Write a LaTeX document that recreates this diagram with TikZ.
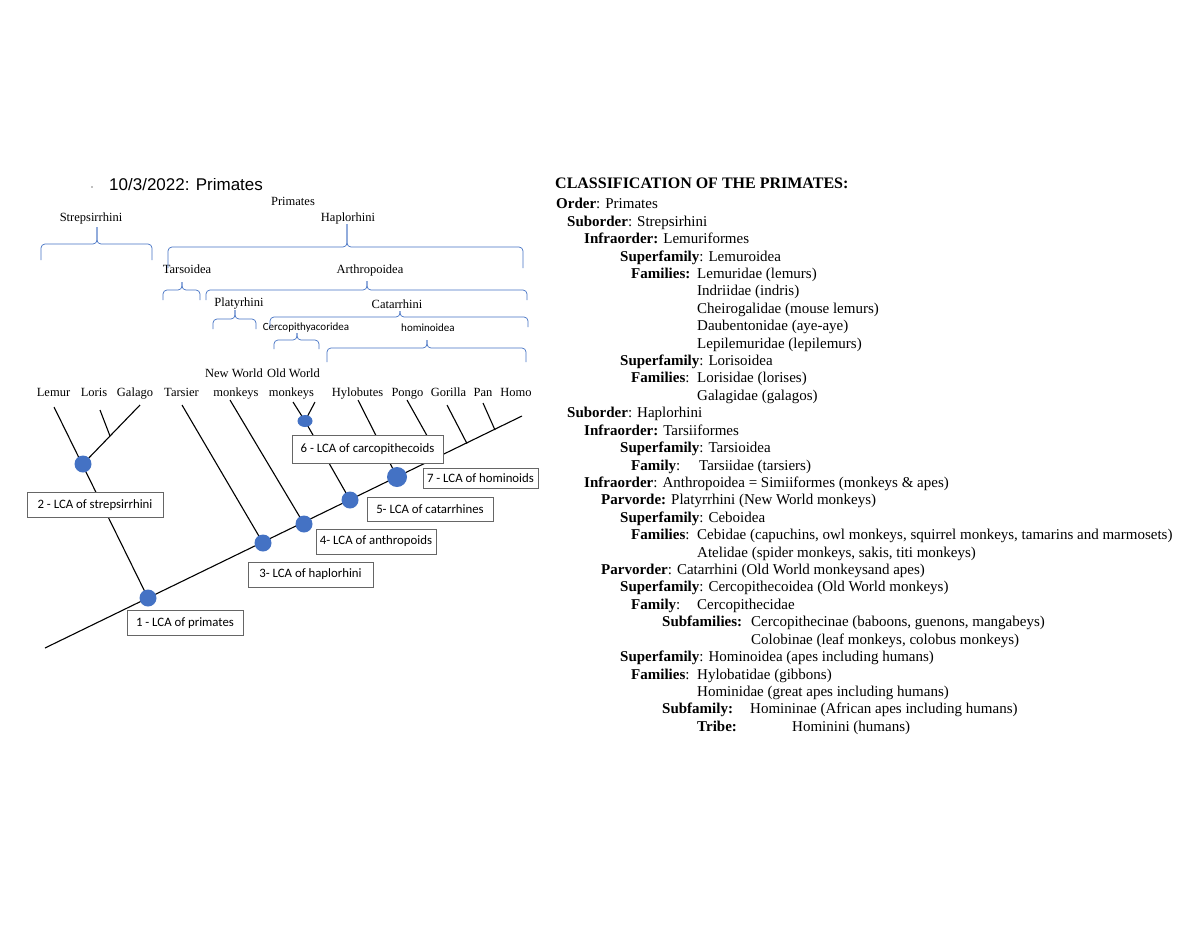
\documentclass[tikz,border=0pt]{standalone}
\usepackage{fontspec}
\setmainfont{Liberation Serif}
\newfontfamily\carlito{Carlito}
\newfontfamily\arialfont{Liberation Sans}
\usetikzlibrary{shapes.geometric}
\definecolor{lcablue}{RGB}{68,114,196}
\newcommand{\taxbrace}[6]{%
\draw[brace](#1,#5)--(#1,#4)--(#3,#4)--(#3,#6);
\draw[brace](#3,#6)--(#3,#4)--(#2,#4)--(#2,#5);}
\newcommand{\clsrow}[3]{\node[cls](r#1) at (#2,{191.4+17.414*#1}){#3};}
\newcommand{\clsitem}[3]{\node[cls](i#1) at (#2,{191.4+17.414*#1}){#3};}
\begin{document}
\begin{tikzpicture}[x=1pt,y=-1pt,
  brace/.style={draw=lcablue, line width=.7pt, rounded corners=4pt},
  taxon/.style={font=\fontsize{12.5}{13}\selectfont, inner sep=0pt, anchor=base},
  group/.style={font=\fontsize{12.5}{13}\selectfont, inner sep=0pt},
  smallgroup/.style={font=\carlito\fontsize{11}{12}\selectfont, inner sep=0pt},
  branch/.style={line width=1.1pt},
  lca/.style={circle, fill=lcablue, minimum size=17pt, inner sep=0pt},
  lcabox/.style={draw=black!60, fill=white, line width=.6pt, font=\carlito\fontsize{12.8}{14}\selectfont, minimum height=25pt, inner sep=0pt},
  cls/.style={font=\fontsize{15}{17}\selectfont, inner sep=0pt, anchor=base west}]
\fill[white](0,0) rectangle (1200,927);
\useasboundingbox (0,0) rectangle (1200,927);

\begin{scope}
\clip (100,178.5) rectangle (300,200);
\node[font=\arialfont\fontsize{17}{19}\selectfont, inner sep=0pt, anchor=base west](title) at (109,190.5){10/3/2022: Primates};
\end{scope}
\fill[black!50](92,187) circle (.8);

\node[group](primates) at (293,201){Primates};
\node[group](strep) at (91,218){Strepsirrhini};
\node[group](haplo) at (348,218){Haplorhini};
\node[group](tarso) at (187,269){Tarsoidea};
\node[group](arthro) at (370,270){Arthropoidea};
\node[group](platy) at (239,304){Platyrhini};
\node[group](catar) at (397,304){Catarrhini};
\node[smallgroup](cerco) at (306,328){Cercopithyacoridea};
\node[smallgroup](homino) at (428,328){hominoidea};

\taxbrace{41}{152}{97}{244}{260}{227}
\taxbrace{168}{523}{347}{247}{268}{224}
\taxbrace{163}{200}{182}{290}{300}{282}
\taxbrace{206}{527}{367}{290}{300}{281}
\taxbrace{213}{256}{235}{319}{329}{310}
\taxbrace{270}{528}{400}{317}{327}{311}
\taxbrace{274}{319}{297}{340}{349}{333}
\taxbrace{327}{526}{427}{348}{362}{340}

\node[taxon](lemur) at (53.5,396){Lemur};
\node[taxon](loris) at (94,396){Loris};
\node[taxon](galago) at (135,396){Galago};
\node[taxon](tarsier) at (181.5,396){Tarsier};
\node[taxon](nwm) at (236,396){monkeys};
\node[taxon](nw) at (234,377){New World};
\node[taxon](owm) at (291.5,396){monkeys};
\node[taxon](ow) at (293.5,377){Old World};
\node[taxon](hylo) at (357.5,396){Hylobutes};
\node[taxon](pongo) at (407.5,396){Pongo};
\node[taxon](gorilla) at (448.5,396){Gorilla};
\node[taxon](pan) at (483,396){Pan};
\node[taxon](homo) at (516,396){Homo};

\coordinate (root) at (45,648);
\coordinate (crown) at (522,416);
\coordinate (l1) at (148,598);
\coordinate (l2) at (83,464);
\coordinate (l3) at (263,543);
\coordinate (l4) at (304,524);
\coordinate (l5) at (350,500);
\coordinate (l6) at (305,421);
\coordinate (l7) at (397,477);
\coordinate (jloris) at (110,436);
\coordinate (jpongo) at (439,457);
\coordinate (jgorilla) at (467,443.6);
\coordinate (jpan) at (495,430);
\coordinate (tlemur) at (54,407);
\coordinate (tloris) at (100,410);
\coordinate (tgalago) at (140,405);
\coordinate (ttarsier) at (182,405);
\coordinate (tnwm) at (230,400);
\coordinate (towa) at (293,402);
\coordinate (towb) at (315,402);
\coordinate (thylo) at (358,400);
\coordinate (tpongo) at (407,400);
\coordinate (tgorilla) at (447,405);
\coordinate (tpan) at (483,403);

\draw[branch](root)--(crown);
\draw[branch](l1)--(tlemur);
\draw[branch](l2)--(tgalago);
\draw[branch](jloris)--(tloris);
\draw[branch](l3)--(ttarsier);
\draw[branch](l4)--(tnwm);
\draw[branch](l5)--(l6);
\draw[branch](l6)--(towa);
\draw[branch](l6)--(towb);
\draw[branch](l7)--(thylo);
\draw[branch](jpongo)--(tpongo);
\draw[branch](jgorilla)--(tgorilla);
\draw[branch](jpan)--(tpan);

\node[lca](n1) at (l1){};
\node[lca](n2) at (l2){};
\node[lca](n3) at (l3){};
\node[lca](n4) at (l4){};
\node[lca](n5) at (l5){};
\node[lca, ellipse, minimum width=15pt, minimum height=12pt](n6) at (l6){};
\node[lca, minimum size=20pt](n7) at (l7){};

\node[lcabox, minimum width=116pt](b1) at (185,623){1 - LCA of primates};
\node[lcabox, minimum width=136pt](b2) at (95,505){2 - LCA of strepsirrhini};
\node[lcabox, minimum width=125pt](b3) at (310.5,574.5){3- LCA of haplorhini};
\node[lcabox, minimum width=120pt](b4) at (376,541.5){4- LCA of anthropoids};
\node[lcabox, minimum width=126pt, minimum height=24pt](b5) at (430,509){5- LCA of catarrhines};
\node[lcabox, minimum width=151pt, minimum height=28pt](b6) at (367.5,449){6 - LCA of carcopithecoids};
\node[lcabox, minimum width=115pt, minimum height=20pt](b7) at (480.5,478){7 - LCA of hominoids};

\node[cls, font=\fontsize{16}{18}\selectfont\bfseries](head) at (555,188){CLASSIFICATION OF THE PRIMATES:};
\clsrow{1}{556}{\textbf{Order}: Primates}
\clsrow{2}{567}{\textbf{Suborder}: Strepsirhini}
\clsrow{3}{584}{\textbf{Infraorder:} Lemuriformes}
\clsrow{4}{620}{\textbf{Superfamily}: Lemuroidea}
\clsrow{5}{631}{\textbf{Families:}}
\clsitem{5}{697}{Lemuridae (lemurs)}
\clsitem{6}{697}{Indriidae (indris)}
\clsitem{7}{697}{Cheirogalidae (mouse lemurs)}
\clsitem{8}{697}{Daubentonidae (aye-aye)}
\clsitem{9}{697}{Lepilemuridae (lepilemurs)}
\clsrow{10}{620}{\textbf{Superfamily}: Lorisoidea}
\clsrow{11}{631}{\textbf{Families}:}
\clsitem{11}{697}{Lorisidae (lorises)}
\clsitem{12}{697}{Galagidae (galagos)}
\clsrow{13}{567}{\textbf{Suborder}: Haplorhini}
\clsrow{14}{584}{\textbf{Infraorder:} Tarsiiformes}
\clsrow{15}{620}{\textbf{Superfamily}: Tarsioidea}
\clsrow{16}{631}{\textbf{Family}:}
\clsitem{16}{699}{Tarsiidae (tarsiers)}
\clsrow{17}{584}{\textbf{Infraorder}: Anthropoidea = Simiiformes (monkeys \& apes)}
\clsrow{18}{601}{\textbf{Parvorde:} Platyrrhini (New World monkeys)}
\clsrow{19}{620}{\textbf{Superfamily}: Ceboidea}
\clsrow{20}{631}{\textbf{Families}:}
\clsitem{20}{697}{Cebidae (capuchins, owl monkeys, squirrel monkeys, tamarins and marmosets)}
\clsitem{21}{697}{Atelidae (spider monkeys, sakis, titi monkeys)}
\clsrow{22}{601}{\textbf{Parvorder}: Catarrhini (Old World monkeysand apes)}
\clsrow{23}{620}{\textbf{Superfamily}: Cercopithecoidea (Old World monkeys)}
\clsrow{24}{631}{\textbf{Family}:}
\clsitem{24}{697}{Cercopithecidae}
\clsrow{25}{662}{\textbf{Subfamilies:}}
\clsitem{25}{751}{Cercopithecinae (baboons, guenons, mangabeys)}
\clsitem{26}{751}{Colobinae (leaf monkeys, colobus monkeys)}
\clsrow{27}{620}{\textbf{Superfamily}: Hominoidea (apes including humans)}
\clsrow{28}{631}{\textbf{Families}:}
\clsitem{28}{697}{Hylobatidae (gibbons)}
\clsitem{29}{697}{Hominidae (great apes including humans)}
\clsrow{30}{662}{\textbf{Subfamily:}}
\clsitem{30}{750}{Homininae (African apes including humans)}
\clsrow{31}{697}{\textbf{Tribe:}}
\clsitem{31}{792}{Hominini (humans)}
\end{tikzpicture}
\end{document}
